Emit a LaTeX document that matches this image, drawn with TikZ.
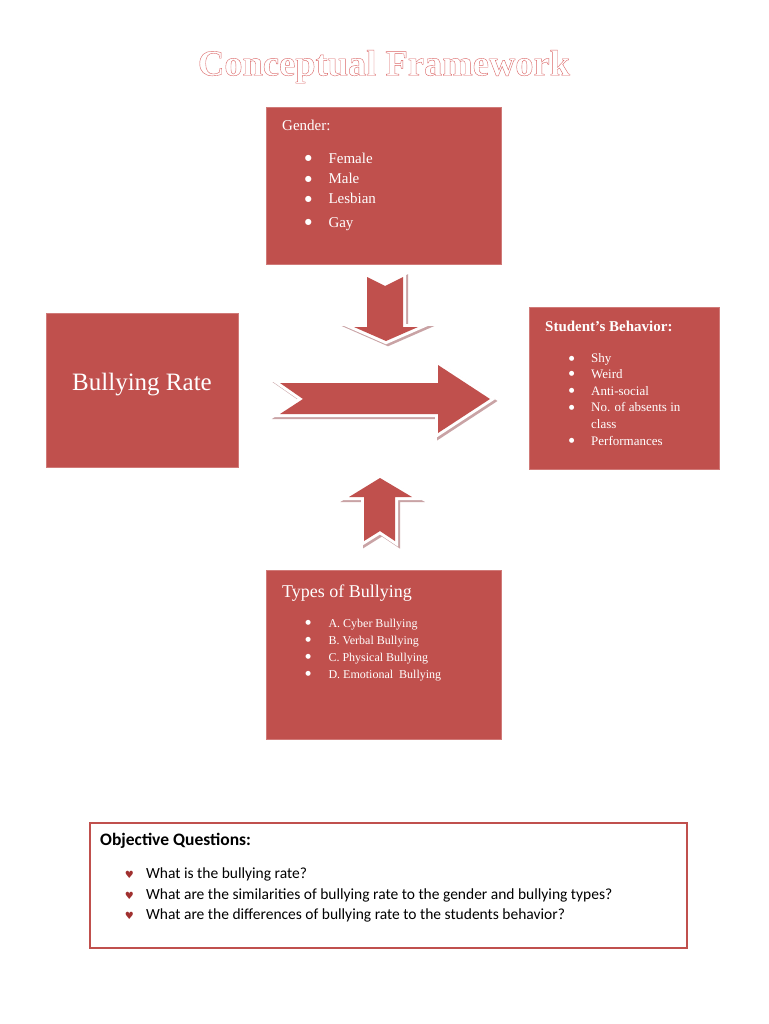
\documentclass[tikz,border=0pt]{standalone}
\usepackage{fontspec}
\setmainfont{Liberation Serif}
\newfontfamily\qfont{Carlito}
\newfontfamily\symfont{DejaVu Sans}
\definecolor{boxred}{HTML}{C0504D}
\definecolor{edgered}{HTML}{D07A78}
\definecolor{shadowred}{HTML}{C9A3A5}
\definecolor{heartred}{HTML}{A0302F}
\newcommand{\outlinetext}[1]{\special{pdf:literal direct 0.86 0.4 0.4 RG 0.4 w 2 Tr}#1\special{pdf:literal direct 0 Tr}}
% block arrow outlines
\newcommand{\downpath}{(367,277) -- (385,286) -- (403,277) -- (403,327) -- (418,327) -- (386,341) -- (354,327) -- (367,327) -- cycle}
\newcommand{\rightpath}{(280,383) -- (438,383) -- (438,365) -- (490,399) -- (438,433) -- (438,414) -- (280,414) -- (303,399) -- cycle}
\newcommand{\uppath}{(380,478) -- (412,497) -- (395,497) -- (395,541) -- (380,531) -- (364,541) -- (364,497) -- (349,497) -- cycle}
\begin{document}
\begin{tikzpicture}[x=1pt,y=-1pt,
  box/.style={draw=edgered,fill=boxred,line width=0.7pt},
  arrowrim/.style={draw=white,fill=white,line width=6pt,line join=miter},
  arrowbody/.style={fill=boxred},
  arrowshadow/.style={draw=shadowred,fill=shadowred,line width=6pt,line join=miter,shift={(2,2)}},
  txt/.style={text=white,anchor=base west,inner sep=0pt},
  dot/.style={text=white,anchor=center,inner sep=0pt,font=\symfont\fontsize{#1}{#1}\selectfont},
  objbox/.style={draw=boxred,fill=white,line width=2pt}]
  \useasboundingbox[fill=white] (0,0) rectangle (768,1024);

  % Title
  \node[anchor=base,inner sep=0pt,text=white,font=\bfseries\fontsize{36.5}{36.5}\selectfont] (title) at (384,75.5) {\outlinetext{Conceptual Framework}};

  % Boxes
  \draw[box] (266,107) rectangle (501,264);
  \draw[box] (46,313) rectangle (238,467);
  \draw[box] (529,307) rectangle (719,469);
  \draw[box] (266,570) rectangle (501,739);

  % Arrows (shadow, rim, body)
  \draw[arrowshadow] \downpath;
  \draw[arrowshadow] \rightpath;
  \draw[arrowshadow] \uppath;
  \draw[arrowrim] \downpath;
  \draw[arrowrim] \rightpath;
  \draw[arrowrim] \uppath;
  \fill[arrowbody] \downpath;
  \fill[arrowbody] \rightpath;
  \fill[arrowbody] \uppath;

  % Gender
  \node[txt,font=\fontsize{15}{15}\selectfont] (gender) at (282,130.7) {Gender:};
  \foreach \t/\y [count=\i] in {Female/163.3, Male/184, Lesbian/204, Gay/227.7} {
    \node[dot=8] (gb\i) at (308.3,\y-5) {●};
    \node[txt,font=\fontsize{15}{15}\selectfont] (g\i) at (328.3,\y) {\t};
  }

  % Bullying rate
  \node[anchor=base,inner sep=0pt,text=white,font=\fontsize{25}{25}\selectfont] (rate) at (142,390) {Bullying Rate};

  % Student's behavior
  \node[txt,font=\bfseries\fontsize{15}{15}\selectfont] (behavior) at (545,331) {Student’s Behavior:};
  \foreach \t/\y [count=\i] in {Shy/362.6, Weird/378.3, Anti-social/395, No. of absents in/411.6, Performances/445.3} {
    \node[dot=6.5] (sb\i) at (571.7,\y-4.2) {●};
    \node[txt,font=\fontsize{13}{13}\selectfont] (s\i) at (591,\y) {\t};
  }
  \node[txt,font=\fontsize{13}{13}\selectfont] (s4b) at (591,428.3) {class};

  % Types of bullying
  \node[txt,font=\fontsize{18}{18}\selectfont] (types) at (282,597.5) {Types of Bullying};
  \foreach \t/\y [count=\i] in {A. Cyber Bullying/627.3, B. Verbal Bullying/644, C. Physical Bullying/661.3, {D. Emotional\ \ Bullying}/678.3} {
    \node[dot=6.5] (tb\i) at (308.3,\y-4) {●};
    \node[txt,font=\fontsize{12}{12}\selectfont] (t\i) at (328.3,\y) {\t};
  }

  % Objective questions
  \draw[objbox] (90,823) rectangle (687,948);
  \node[txt,text=black,font=\qfont\bfseries\fontsize{17.5}{17.5}\selectfont] (objective) at (100,845) {Objective Questions:};
  \foreach \t/\y [count=\i] in {What is the bullying rate?/878.3, What are the similarities of bullying rate to the gender and bullying types?/899, What are the differences of bullying rate to the students behavior?/919} {
    \node[txt,anchor=base,text=heartred,font=\symfont\fontsize{10}{10}\selectfont] (h\i) at (129.3,\y) {♥};
    \node[txt,text=black,font=\qfont\fontsize{15.5}{15.5}\selectfont] (q\i) at (146,\y) {\t};
  }
\end{tikzpicture}
\end{document}
